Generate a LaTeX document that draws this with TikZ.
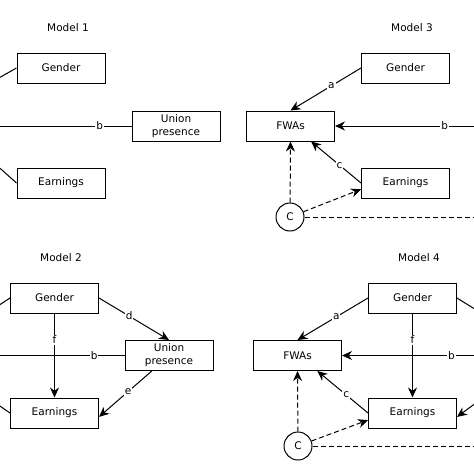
\documentclass[tikz,border=0pt]{standalone}
\usepackage{fontspec}
\setmainfont{DejaVu Sans}
\usetikzlibrary{arrows.meta}
\tikzset{
	box/.style={draw,line width=1pt,minimum width=88pt,minimum height=30pt,inner sep=1pt,align=center,font=\fontsize{10.5}{13}\selectfont},
	ctrl/.style={draw,circle,line width=1pt,minimum size=28pt,inner sep=0pt,font=\fontsize{10.5}{12}\selectfont},
	lab/.style={fill=white,inner sep=1pt,font=\fontsize{10.5}{12}\selectfont},
	path/.style={line width=1pt},
	arr/.style={line width=1pt,-{Stealth[length=10pt,width=9pt]}},
	dsh/.style={line width=1pt,dash pattern=on 5pt off 3pt}
}
\begin{document}
\begin{tikzpicture}[x=1pt,y=-1pt]
\useasboundingbox (0,0) rectangle (474,474);
\clip (0,0) rectangle (474,474);
\fill[white] (0,0) rectangle (474,474);
\foreach \n/\x/\y in {1/68/28,2/61/258,3/412/28,4/419/258}{
	\node[font=\fontsize{10.5}{12}\selectfont] (title\n) at (\x,\y) {Model \n};
}
% model 1
\node[box] (gender1) at (61,68) {Gender};
\node[box] (union1) at (176,126) {Union\\presence};
\node[box] (earn1) at (61,183) {Earnings};
\coordinate (g1end) at (-20,88.6);
\coordinate (u1end) at (-20,126);
\coordinate (e1end) at (-20,150.4);
\draw[path] (gender1.west) -- (g1end);
\draw[path] (union1.west) -- node[lab,pos=.21] {b} (u1end);
\draw[path] (earn1.west) -- (e1end);
% model 3
\node[box] (gender3) at (405.5,68) {Gender};
\node[box] (fwa3) at (290.5,126) {FWAs};
\node[box] (earn3) at (405.5,183) {Earnings};
\node[ctrl] (c3) at (290,217) {C};
\coordinate (u3end) at (494,126);
\coordinate (c3end) at (494,217);
\draw[arr] (gender3.west) -- node[lab,pos=.42] {a} (fwa3.north);
\draw[arr] (u3end) -- node[lab,pos=.31] {b} (fwa3.east);
\draw[arr] (earn3.west) -- node[lab,pos=.43] {c} (fwa3.-37);
\draw[dsh,-{Stealth[length=10pt,width=9pt]}] (c3) -- (fwa3.south);
\draw[dsh,-{Stealth[length=10pt,width=9pt]}] (c3) -- (earn3.188);
\draw[dsh] (c3.east) -- (c3end);
% model 2
\node[box] (gender2) at (54.5,298) {Gender};
\node[box] (union2) at (169,355.5) {Union\\presence};
\node[box] (earn2) at (54.5,413) {Earnings};
\coordinate (g2end) at (-20,317.7);
\coordinate (u2end) at (-20,355.5);
\coordinate (e2end) at (-20,392.3);
\draw[path] (gender2.west) -- (g2end);
\draw[path] (union2.west) -- node[lab,pos=.21] {b} (u2end);
\draw[path] (earn2.west) -- (e2end);
\draw[arr] (gender2.east) -- node[lab,pos=.43] {d} (union2.north);
\draw[arr] (gender2.south) -- node[lab,pos=.31] {f} (earn2.north);
\draw[arr] (union2.222) -- node[lab,pos=.45] {e} (earn2.-5);
% model 4
\node[box] (gender4) at (412.5,298) {Gender};
\node[box] (fwa4) at (297.5,355.5) {FWAs};
\node[box] (earn4) at (412.5,413) {Earnings};
\node[ctrl] (c4) at (298,446) {C};
\coordinate (d4end) at (494,321);
\coordinate (u4end) at (494,355.5);
\coordinate (e4end) at (494,389.6);
\coordinate (c4end) at (494,446);
\draw[path] (gender4.east) -- (d4end);
\draw[arr] (gender4.west) -- node[lab,pos=.45] {a} (fwa4.north);
\draw[arr] (gender4.south) -- node[lab,pos=.31] {f} (earn4.north);
\draw[arr] (u4end) -- node[lab,pos=.28] {b} (fwa4.east);
\draw[arr] (earn4.west) -- node[lab,pos=.43] {c} (fwa4.-38);
\draw[arr] (e4end) -- (earn4.-5);
\draw[dsh,-{Stealth[length=10pt,width=9pt]}] (c4) -- (fwa4.south);
\draw[dsh,-{Stealth[length=10pt,width=9pt]}] (c4) -- (earn4.189);
\draw[dsh] (c4.east) -- (c4end);
\end{tikzpicture}
\end{document}
